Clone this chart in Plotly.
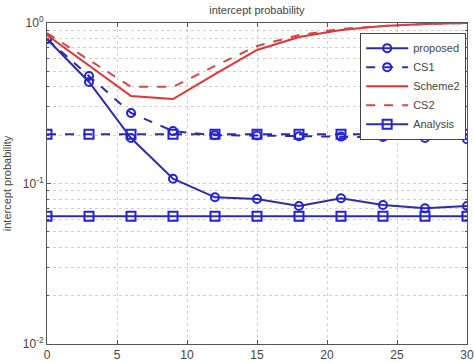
import plotly.graph_objects as go

x_vals = [0, 3, 6, 9, 12, 15, 18, 21, 24, 27, 30]

proposed = [0.795, 0.429, 0.192, 0.107, 0.082, 0.080, 0.0724, 0.0809, 0.0735, 0.070, 0.0724]
cs1 = [0.795, 0.468, 0.275, 0.212, 0.200, 0.199, 0.197, 0.196, 0.195, 0.192, 0.189]
scheme2 = [0.842, 0.547, 0.351, 0.336, 0.481, 0.679, 0.818, 0.905, 0.958, 0.986, 1.0]
cs2 = [0.866, 0.588, 0.400, 0.400, 0.540, 0.719, 0.842, 0.918, 0.958, 0.986, 1.0]
analysis = [0.0625] * 11
analysis_cs1 = [0.203] * 11

y_tickvals = [0.01, 0.1, 1]
y_ticktext = ["10<sup>-2</sup>", "10<sup>-1</sup>", "10<sup>0</sup>"]
y_minor = [m * 10 ** e for e in (-2, -1) for m in range(2, 10)]
x_tickvals = [0, 5, 10, 15, 20, 25, 30]

blue_line = "#2c2ca8"
blue_mk = "#2222dd"
red = "#e23434"
red_dash = "#d04848"
grid_col = "#cfcfcf"
font_fam = "Liberation Sans, Arial, sans-serif"

fig = go.Figure()

fig.add_trace(go.Scatter(x=x_vals, y=proposed, name="proposed", mode="lines+markers",
                         line=dict(color=blue_line, width=2),
                         marker=dict(symbol="circle-open", size=8, color=blue_mk, line=dict(width=2))))
fig.add_trace(go.Scatter(x=x_vals, y=cs1, name="CS1", mode="lines+markers",
                         line=dict(color=blue_line, width=2, dash="dash"),
                         marker=dict(symbol="circle-open", size=8, color=blue_mk, line=dict(width=2))))
fig.add_trace(go.Scatter(x=x_vals, y=scheme2, name="Scheme2", mode="lines",
                         line=dict(color=red, width=2)))
fig.add_trace(go.Scatter(x=x_vals, y=cs2, name="CS2", mode="lines",
                         line=dict(color=red_dash, width=2, dash="dash")))
fig.add_trace(go.Scatter(x=x_vals, y=analysis, name="Analysis", mode="lines+markers",
                         line=dict(color=blue_line, width=2),
                         marker=dict(symbol="square-open", size=9, color=blue_mk, line=dict(width=2))))
fig.add_trace(go.Scatter(x=x_vals, y=analysis_cs1, name="Analysis CS1", mode="lines+markers",
                         showlegend=False,
                         line=dict(color=blue_line, width=2, dash="dash"),
                         marker=dict(symbol="square-open", size=9, color=blue_mk, line=dict(width=2))))

axis_common = dict(showline=True, linecolor="#555555", linewidth=1, mirror="ticks",
                   ticks="inside", ticklen=4, tickcolor="#555555", automargin=False,
                   gridcolor=grid_col, griddash="dot", gridwidth=1, zeroline=False,
                   tickfont=dict(family=font_fam, size=12, color="#444444"))

fig.update_xaxes(range=[0, 30], tickvals=x_tickvals, showgrid=True, **axis_common)
fig.update_yaxes(type="log", range=[-2, 0], tickvals=y_tickvals, ticktext=y_ticktext,
                 showgrid=True,
                 minor=dict(tickvals=y_minor, showgrid=True, gridcolor=grid_col, griddash="dot",
                            ticks="inside", ticklen=2, tickcolor="#555555"),
                 title=dict(text="intercept probability", standoff=8,
                            font=dict(family=font_fam, size=11, color="#444444")),
                 **axis_common)

fig.update_layout(
    width=474, height=363,
    margin=dict(l=47, r=7, t=23, b=19),
    paper_bgcolor="white", plot_bgcolor="white",
    title=dict(text="intercept probability", x=0.542, xanchor="center", y=0.972, yanchor="middle",
               font=dict(family=font_fam, size=11, color="#444444")),
    legend=dict(x=0.998, y=0.97, xanchor="right", yanchor="top",
                bgcolor="white", bordercolor="#444444", borderwidth=1,
                font=dict(family=font_fam, size=11, color="#444444"),
                tracegroupgap=0, itemsizing="trace", itemwidth=42),
    showlegend=True,
)

fig.write_html("out.html", config={"displayModeBar": False},
               post_script="document.body.style.margin='0px';document.body.style.overflow='hidden';")
